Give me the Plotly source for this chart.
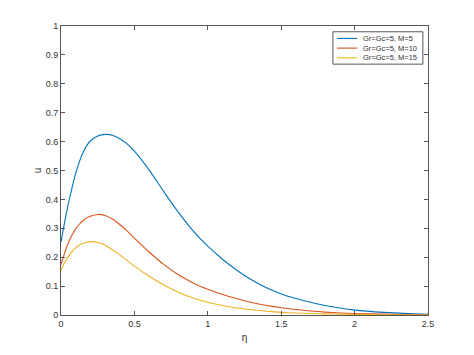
import plotly.graph_objects as go

eta = [0, 0.025, 0.05, 0.075, 0.1, 0.125, 0.15, 0.175, 0.2, 0.25, 0.3, 0.35, 0.4, 0.45,
       0.5, 0.6, 0.7, 0.8, 0.9, 1.0, 1.1, 1.2, 1.3, 1.4, 1.5, 1.6, 1.7, 1.8,
       1.9, 2.0, 2.2, 2.4, 2.5]
u_m5 = [0.252, 0.322, 0.385, 0.44, 0.49, 0.53, 0.562, 0.586, 0.602, 0.619, 0.625, 0.622,
        0.61, 0.592, 0.567, 0.502, 0.427, 0.355, 0.291, 0.238, 0.193, 0.154, 0.121,
        0.094, 0.073, 0.057, 0.044, 0.033, 0.024, 0.017, 0.009, 0.004, 0.002]
u_m10 = [0.175, 0.215, 0.25, 0.277, 0.298, 0.314, 0.327, 0.336, 0.342, 0.348, 0.344, 0.332,
         0.313, 0.291, 0.266, 0.218, 0.175, 0.139, 0.111, 0.089, 0.071, 0.056, 0.043,
         0.033, 0.025, 0.019, 0.014, 0.01, 0.007, 0.005, 0.003, 0.001, 0.001]
u_m15 = [0.155, 0.182, 0.203, 0.219, 0.232, 0.242, 0.248, 0.252, 0.254, 0.251, 0.241, 0.226,
         0.208, 0.189, 0.169, 0.134, 0.104, 0.079, 0.059, 0.044, 0.033, 0.024, 0.018,
         0.013, 0.009, 0.007, 0.005, 0.004, 0.003, 0.002, 0.001, 0.0, 0.0]
names = ["Gr=Gc=5, M=5", "Gr=Gc=5, M=10", "Gr=Gc=5, M=15"]
colors = ["#0072BD", "#D95319", "#EDB120"]
x_ticks = [0, 0.5, 1, 1.5, 2, 2.5]
x_tick_text = ["0", "0.5", "1", "1.5", "2", "2.5"]
y_ticks = [0, 0.1, 0.2, 0.3, 0.4, 0.5, 0.6, 0.7, 0.8, 0.9, 1]
y_tick_text = ["0", "0.1", "0.2", "0.3", "0.4", "0.5", "0.6", "0.7", "0.8", "0.9", "1"]

fig = go.Figure()
for ys, n, c in zip([u_m5, u_m10, u_m15], names, colors):
    fig.add_trace(go.Scatter(x=eta, y=ys, mode="lines", name=n, showlegend=False,
                             line=dict(color=c, width=1.1, shape="spline", smoothing=0.5)))

# legend drawn as a small MATLAB-style box
box = dict(x0=0.741, x1=0.986, y0=0.868, y1=0.980)
fig.add_shape(type="rect", xref="paper", yref="paper", **box,
              line=dict(color="#555555", width=1), fillcolor="white", layer="above")
row_y = [0.957, 0.9235, 0.89]
for n, c, yy in zip(names, colors, row_y):
    fig.add_shape(type="line", xref="paper", yref="paper", x0=0.752, x1=0.807,
                  y0=yy, y1=yy, line=dict(color=c, width=1.1), layer="above")
    fig.add_annotation(xref="paper", yref="paper", x=0.818, y=yy, text=n,
                       showarrow=False, xanchor="left", yanchor="middle",
                       font=dict(family="Liberation Sans", size=7.5, color="#333333"))

axis_common = dict(showgrid=False, zeroline=False, showline=True, linecolor="#555555",
                   linewidth=1, mirror="ticks", ticks="inside", ticklen=4,
                   tickcolor="#555555",
                   tickfont=dict(family="Liberation Sans", size=9, color="#333333"))

fig.update_layout(
    width=474, height=355,
    margin=dict(l=61, r=46, t=26, b=40),
    paper_bgcolor="white", plot_bgcolor="white",
    font=dict(family="Liberation Sans", color="#333333"),
    xaxis=dict(range=[0, 2.5], tickvals=x_ticks, ticktext=x_tick_text,
               title=dict(text="η", font=dict(size=10), standoff=6), **axis_common),
    yaxis=dict(range=[0, 1], tickvals=y_ticks, ticktext=y_tick_text,
               title=dict(text="u", font=dict(size=10), standoff=2), **axis_common),
    showlegend=False,
)

fig.write_html("out.html")
